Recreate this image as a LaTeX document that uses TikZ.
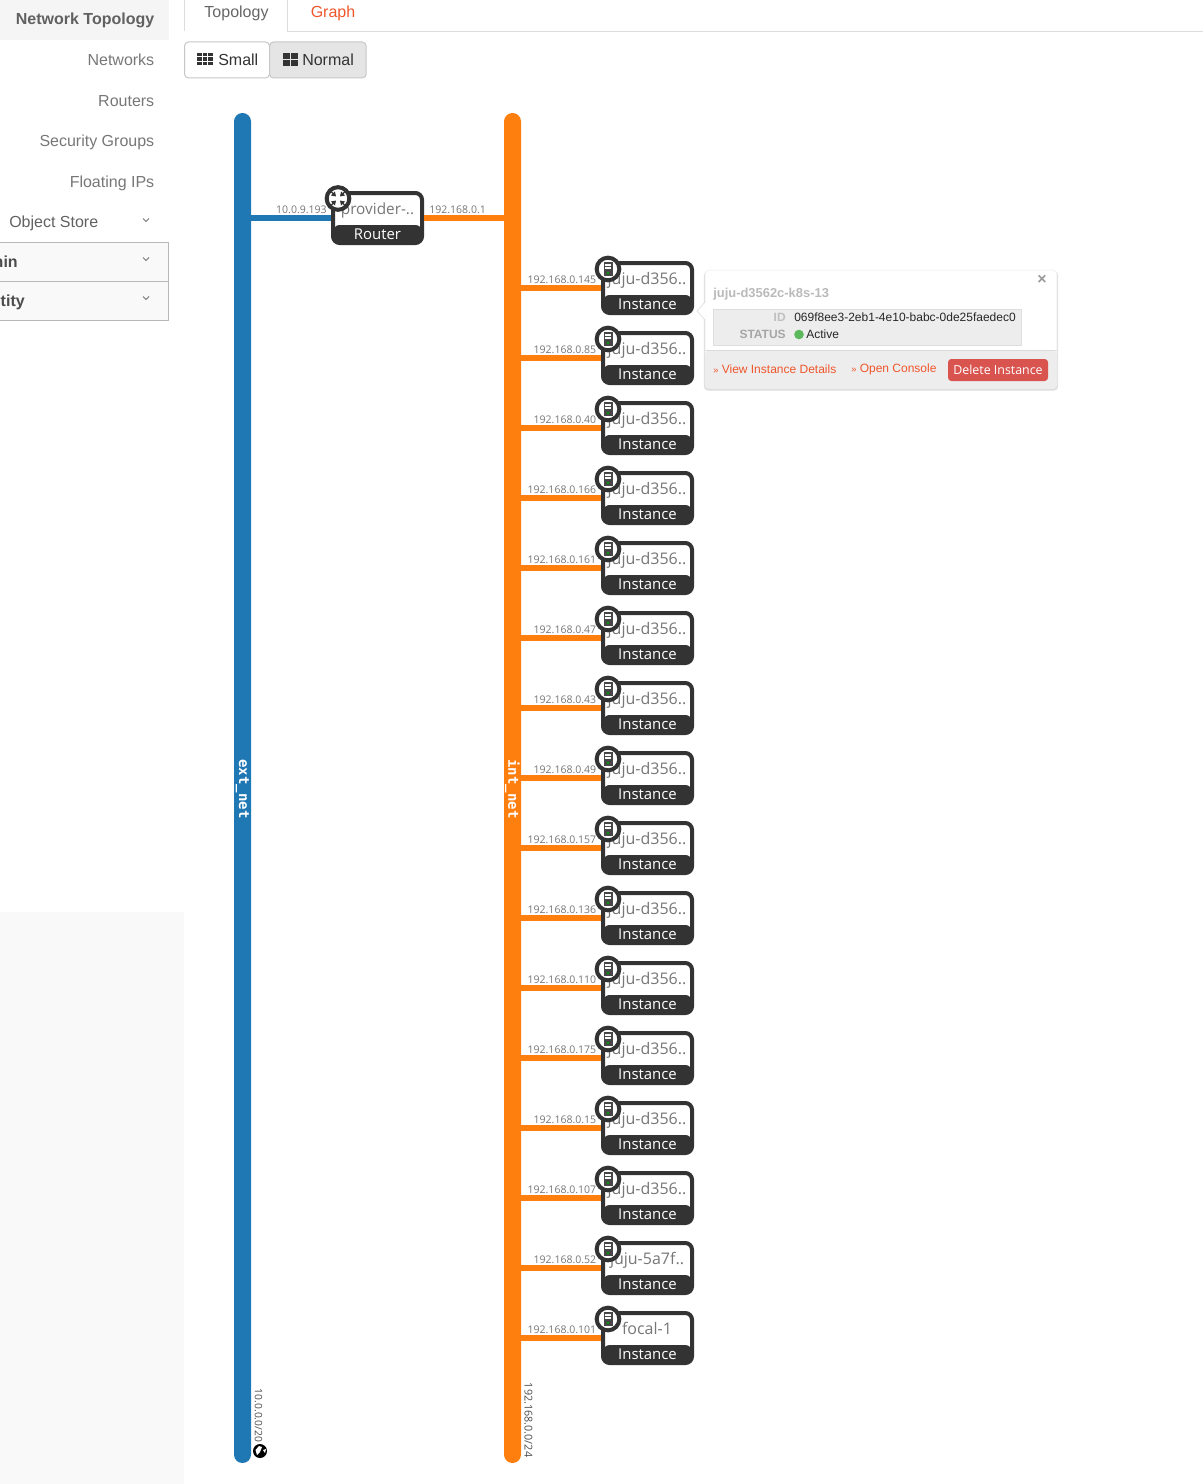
\documentclass[tikz,border=0pt]{standalone}
\usepackage{fontspec}
\setmainfont{Liberation Sans}
\newfontfamily\labelfont{Open Sans}
\newfontfamily\netfont{DejaVu Sans Mono}
\usetikzlibrary{shadows,arrows.meta}

\definecolor{extblue}{HTML}{1F77B4}
\definecolor{intorange}{HTML}{FF7F0E}
\definecolor{boxdark}{HTML}{333333}
\definecolor{menugray}{HTML}{777777}
\definecolor{linkred}{HTML}{F0562B}
\definecolor{linegray}{HTML}{DDDDDD}
\definecolor{delred}{HTML}{D9534F}
\definecolor{okgreen}{HTML}{5CB85C}

\tikzset{
  netbar/.style={rectangle, rounded corners=6.3pt, minimum width=1012.5pt, minimum height=12.75pt, inner sep=0pt, text=white, font=\netfont\bfseries\fontsize{10.5}{12}\selectfont, rotate=-90},
  devbox/.style={rectangle, draw=boxdark, fill=white, line width=3pt, rounded corners=5pt, minimum width=66.75pt, minimum height=37.5pt, path picture={\fill[boxdark] ([yshift=-5.25pt]path picture bounding box.west) rectangle (path picture bounding box.south east);}},
  devname/.style={font=\labelfont\fontsize{12}{14}\selectfont, text=menugray, inner sep=0pt, text height=9pt, text depth=2.5pt},
  devtype/.style={font=\labelfont\fontsize{11.2}{14}\selectfont, text=white, inner sep=0pt},
  badge/.style={circle, draw=boxdark, fill=white, line width=3pt, minimum size=17pt, inner sep=0pt},
  iplabel/.style={font=\labelfont\fontsize{7.9}{9}\selectfont, text=menugray, inner sep=0pt},
  extlink/.style={draw=extblue, line width=4.5pt},
  intlink/.style={draw=intorange, line width=4.5pt},
  menuitem/.style={font=\fontsize{12}{14}\selectfont, text=menugray, inner sep=0pt},
  menubox/.style={rectangle, draw=black!28, fill=black!2.5, line width=.75pt, minimum width=127pt, minimum height=29.25pt},
  uitext/.style={font=\fontsize{12}{14}\selectfont, inner sep=0pt},
  smalltext/.style={font=\fontsize{9}{11}\selectfont, inner sep=0pt},
  btn/.style={rectangle, draw=black!22, line width=.75pt, rounded corners=3pt, minimum height=27pt},
  chevron/.pic={\draw[menugray, line width=.6pt] (-3,-1.5) -- (0,1.5) -- (3,-1.5);},
  servericon/.pic={
    \fill[boxdark!90] (-4.5,-7) rectangle (4.5,7);
    \fill[white] (-3,-5) rectangle (3,-3.2);
    \fill[white] (-3,-1.8) rectangle (3,0);
    \fill[green!60!black] (-1,3.4) rectangle (1,5.4);
  },
  routericon/.pic={
    \foreach \sx/\sy in {-1/-1,1/-1,-1/1,1/1}
      \draw[boxdark, line width=1pt, -{Triangle[length=3.2pt,width=4pt]}] (7*\sx,7*\sy) -- (2*\sx,2*\sy);
  }
}

\begin{document}
\begin{tikzpicture}[x=.75pt,y=-.75pt]
\useasboundingbox (0,0) rectangle (1203,1484);

\fill[black!2.5] (0,912) rectangle (184,1484);
\fill[black!4] (0,0) rectangle (169,40);
\node[menuitem, anchor=east, font=\bfseries\fontsize{12}{14}\selectfont, text=black!62] (m_top) at (154.5,20) {Network Topology};
\node[menuitem, anchor=east] (m_net) at (154.5,60) {Networks};
\node[menuitem, anchor=east] (m_rou) at (154.5,101) {Routers};
\node[menuitem, anchor=east] (m_sec) at (154.5,142.5) {Security Groups};
\node[menuitem, anchor=east] (m_flo) at (154.5,183.5) {Floating IPs};
\node[menuitem, anchor=west, text=black!62] (m_obj) at (9,223.5) {Object Store};
\node[menubox, anchor=north east] (m_adm) at (169,242) {};
\node[menubox, anchor=north east] (m_ide) at (169,281) {};
\node[menuitem, anchor=east, font=\bfseries\fontsize{12}{14}\selectfont, text=black!70] at (18,262) {nin};
\node[menuitem, anchor=east, font=\bfseries\fontsize{12}{14}\selectfont, text=black!70] at (25,302) {tity};
\pic at (146,220) {chevron};
\pic at (146,259) {chevron};
\pic at (146,298) {chevron};

\draw[linegray, line width=.75pt] (184,0) -- (184,31.5) (287.5,0) -- (287.5,31.5) -- (1203,31.5);
\node[uitext, text=black!60] (t_top) at (236.5,13) {Topology};
\node[uitext, text=linkred] (t_gra) at (333,13) {Graph};

\node[btn, fill=white, minimum width=63.75pt, anchor=west] (b_sma) at (184,60) {};
\node[btn, fill=black!10, minimum width=72.5pt, anchor=west] (b_nor) at (269,60) {};
\node[uitext, anchor=west, text=black!80] at (218,60) {Small};
\node[uitext, anchor=west, text=black!80] at (302,60) {Normal};
\foreach \cx in {197,202.6,208.2}
  \foreach \cy in {53,57.4,61.8}
    \fill[boxdark] (\cx,\cy) rectangle +(4.6,3.2);
\foreach \cx in {282.5,291}
  \foreach \cy in {53,60}
    \fill[boxdark] (\cx,\cy) rectangle +(7,6);

\node[netbar, fill=extblue] (Ext_net) at (242.5,788) {\kern1.5pt ext\_net};
\node[netbar, fill=intorange] (Int_net) at (512.5,788) {\kern1.5pt int\_net};
\node[font=\labelfont\fontsize{7.7}{9}\selectfont, text=black!70, rotate=-90, inner sep=0pt] (Ext_sub) at (258.5,1415.5) {10.0.0.0/20};
\node[font=\labelfont\fontsize{8.1}{10}\selectfont, text=black!70, rotate=-90, inner sep=0pt] (Int_sub) at (528.5,1420) {192.168.0.0/24};
\node[circle, fill=black, minimum size=10.5pt, inner sep=0pt] (Globe) at (260,1451) {};
\fill[white] (255.5,1450) -- (259,1446) -- (262,1447) -- (260,1452) -- (257,1455) -- cycle;
\fill[white] (263,1450) -- (266,1449) -- (265,1453) -- cycle;

\node[devbox] (Router) at (377.5,218) {};
\node[devname, font=\labelfont\fontsize{11.5}{14}\selectfont] at (377.5,210) {provider-..};
\node[devtype] at (377.5,234) {Router};
\node[badge] (Router_b) at (338,198.5) {};
\pic at (Router_b) {routericon};
\draw[extlink] (Ext_net.north |- Router.west) -- (Router.west);
\draw[intlink] (Router.east) -- (Int_net.south |- Router.east);
\node[iplabel, anchor=east] at (327,210) {10.0.9.193};
\node[iplabel, anchor=west] at (429,210) {192.168.0.1};

\foreach \i/\ip/\name in {0/145/juju-d356..,1/85/juju-d356..,2/40/juju-d356..,3/166/juju-d356..,4/161/juju-d356..,5/47/juju-d356..,6/43/juju-d356..,7/49/juju-d356..,8/157/juju-d356..,9/136/juju-d356..,10/110/juju-d356..,11/175/juju-d356..,12/15/juju-d356..,13/107/juju-d356..,14/52/juju-5a7f..,15/101/focal-1}
{
  \pgfmathsetmacro{\ty}{288+70*\i}
  \node[devbox] (I_\i) at (647.5,\ty) {};
  \node[devname] at (647,\ty-8) {\name};
  \node[devtype] at (647.5,\ty+16) {Instance};
  \node[badge] (I_\i_b) at (608,\ty-19) {};
  \pic at (I_\i_b) {servericon};
  \draw[intlink] (Int_net.north |- I_\i.west) -- (I_\i.west);
  \node[iplabel, anchor=east] at (596.5,\ty-8) {192.168.0.\ip};
}

\node[rectangle, draw=black!8, fill=white, rounded corners=3pt, minimum width=264pt, minimum height=89pt, drop shadow={opacity=.28, shadow scale=1.006, shadow xshift=0pt, shadow yshift=-1pt}, path picture={\fill[black!7] ([yshift=-15.75pt]path picture bounding box.west) rectangle (path picture bounding box.south east); \draw[black!14, line width=.75pt] ([yshift=-15.75pt]path picture bounding box.west) -- ([yshift=-15.75pt]path picture bounding box.east);}] (Popup) at (881,329.5) {};
\fill[white] (705.5,302) -- (697,311) -- (705.5,320) -- cycle;
\draw[black!12, line width=.5pt] (705,302) -- (697,311) -- (705,320);
\node[font=\bfseries\fontsize{9.7}{11}\selectfont, text=black!27, anchor=west, inner sep=0pt] (P_title) at (713,294.5) {juju-d3562c-k8s-13};
\node[rectangle, draw=black!13, fill=black!7, anchor=north west, minimum width=231pt, minimum height=27pt, line width=.75pt] (P_table) at (713,309) {};
\node[smalltext, font=\bfseries\fontsize{9}{11}\selectfont, text=black!25, anchor=east] at (786,317) {ID};
\node[smalltext, anchor=west, text=black!85] at (794,317) {069f8ee3-2eb1-4e10-babc-0de25faedec0};
\node[smalltext, font=\bfseries\fontsize{9}{11}\selectfont, text=black!35, anchor=east] at (786,334) {STATUS};
\node[circle, fill=okgreen, minimum size=7.2pt, inner sep=0pt] (P_dot) at (799,334.5) {};
\node[smalltext, anchor=west, text=black!85] at (806,334) {Active};
\node[smalltext, anchor=west, text=linkred] at (713,369.5) {{\fontsize{7}{9}\selectfont »} View Instance Details};
\node[smalltext, anchor=west, text=linkred] at (851,369.5) {{\fontsize{7}{9}\selectfont »} Open Console};
\node[rectangle, fill=delred, rounded corners=2.5pt, minimum width=75pt, minimum height=16.5pt, text=white, inner sep=0pt, font=\labelfont\fontsize{9.3}{11}\selectfont] (P_del) at (998,370) {Delete Instance};
\node[font=\bfseries\fontsize{12}{14}\selectfont, text=black!40, inner sep=0pt] (P_close) at (1042,280) {×};

\end{tikzpicture}
\end{document}
